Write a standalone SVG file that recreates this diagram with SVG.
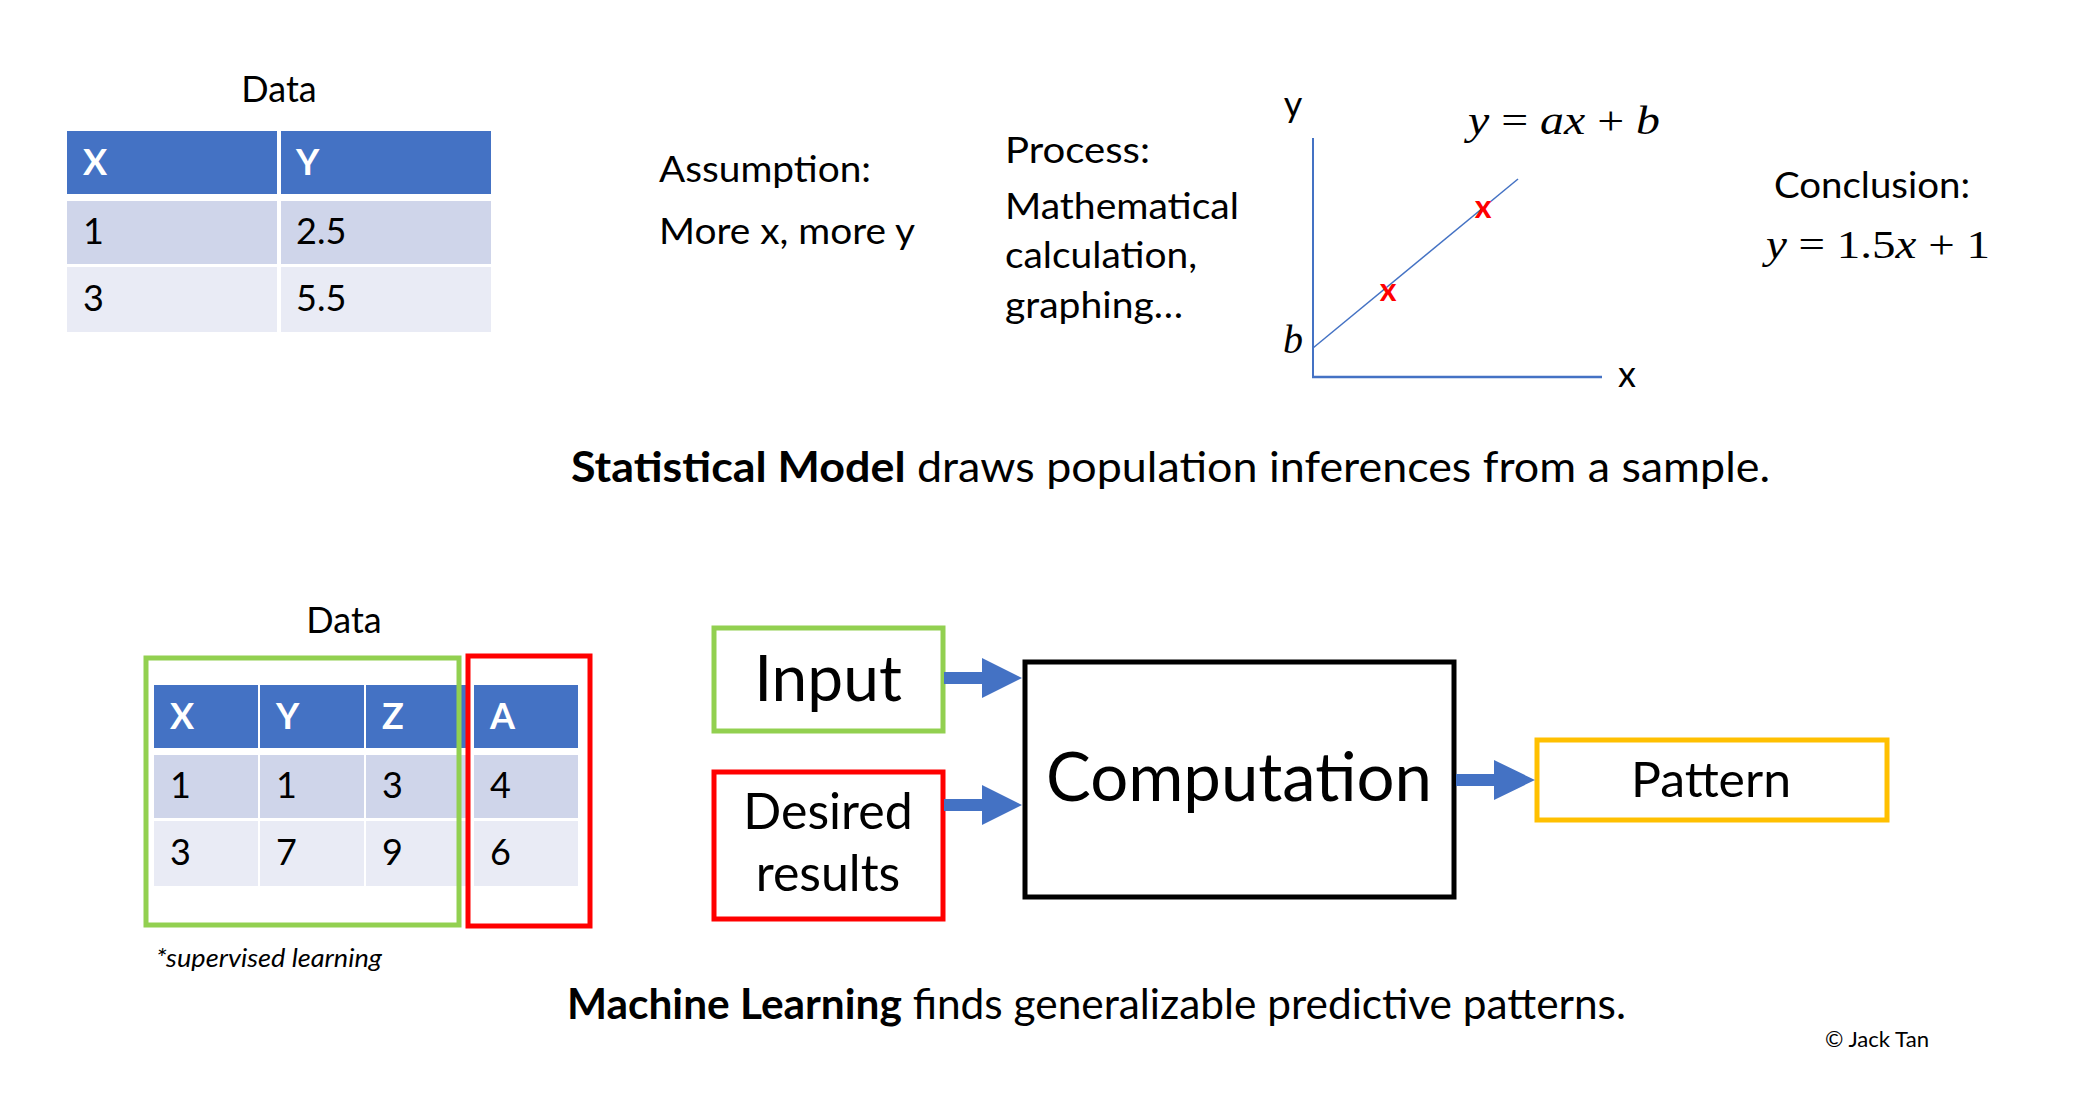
<svg xmlns="http://www.w3.org/2000/svg" width="2076" height="1108" viewBox="0 0 2076 1108">
<style>
text{font-family:Lato,"Open Sans","Liberation Sans",sans-serif;fill:#000}
.h{fill:#4472C4}.r1{fill:#CFD5EA}.r2{fill:#E9EBF5}
.ht{fill:#fff;font-weight:bold;font-size:36px}
.cv{font-size:36px}
.t{font-size:36px}
.m{font-family:"Liberation Serif","DejaVu Serif",serif;font-style:italic;font-size:40px}
.mn{font-family:"Liberation Serif","DejaVu Serif",serif;font-size:40px}
.arrow{fill:#4472C4}
</style>
<rect width="2076" height="1108" fill="#fff"/>
<g id="top-table">
<text x="279" y="102" class="t" text-anchor="middle">Data</text>
<rect x="67" y="131" width="210" height="63" class="h"/><rect x="281" y="131" width="210" height="63" class="h"/>
<rect x="67" y="201" width="210" height="63" class="r1"/><rect x="281" y="201" width="210" height="63" class="r1"/>
<rect x="67" y="267" width="210" height="65" class="r2"/><rect x="281" y="267" width="210" height="65" class="r2"/>
<text x="83" y="175" class="ht">X</text><text x="296" y="175" class="ht">Y</text>
<text x="83" y="244" class="cv">1</text><text x="296" y="244" class="cv">2.5</text>
<text x="83" y="311" class="cv">3</text><text x="296" y="311" class="cv">5.5</text>
</g>
<g id="assumption">
<text x="659" y="182" class="t" textLength="212" lengthAdjust="spacingAndGlyphs">Assumption:</text>
<text x="659" y="244" class="t" textLength="256" lengthAdjust="spacingAndGlyphs">More x, more y</text>
</g>
<g id="process">
<text x="1005" y="163" class="t" textLength="145" lengthAdjust="spacingAndGlyphs">Process:</text>
<text x="1005" y="219" class="t" textLength="234" lengthAdjust="spacingAndGlyphs">Mathematical</text>
<text x="1005" y="268" class="t" textLength="192" lengthAdjust="spacingAndGlyphs">calculation,</text>
<text x="1005" y="318" class="t" textLength="178" lengthAdjust="spacingAndGlyphs">graphing…</text>
</g>
<g id="graph">
<line x1="1313" y1="138" x2="1313" y2="377" stroke="#4472C4" stroke-width="2"/>
<line x1="1312" y1="377" x2="1602" y2="377" stroke="#4472C4" stroke-width="2.5"/>
<line x1="1313" y1="348" x2="1518" y2="179" stroke="#4472C4" stroke-width="1.5"/>
<text x="1388" y="301" font-size="32" font-weight="bold" style="fill:#f00" text-anchor="middle">x</text>
<text x="1483" y="218" font-size="32" font-weight="bold" style="fill:#f00" text-anchor="middle">x</text>
<text x="1293" y="117" class="t" text-anchor="middle">y</text>
<text x="1293" y="353" class="m" text-anchor="middle">b</text>
<text x="1627" y="387" class="t" text-anchor="middle">x</text>
<text x="1468" y="134" class="m" textLength="192" lengthAdjust="spacingAndGlyphs">y <tspan class="mn" font-style="normal">=</tspan> ax <tspan font-style="normal">+</tspan> b</text>
</g>
<g id="conclusion">
<text x="1872" y="198" class="t" text-anchor="middle" textLength="196" lengthAdjust="spacingAndGlyphs">Conclusion:</text>
<text x="1766" y="258" class="m" textLength="224" lengthAdjust="spacingAndGlyphs">y <tspan font-style="normal">= 1.5</tspan>x <tspan font-style="normal">+ 1</tspan></text>
</g>
<g id="stat-caption">
<text x="571" y="482" font-size="42" textLength="1199" lengthAdjust="spacingAndGlyphs"><tspan font-weight="bold">Statistical Model</tspan> draws population inferences from a sample.</text>
</g>
<g id="bottom-table">
<text x="344" y="633" class="t" text-anchor="middle">Data</text>
<rect x="154" y="685" width="104" height="63" class="h"/><rect x="260" y="685" width="104" height="63" class="h"/><rect x="366" y="685" width="104" height="63" class="h"/><rect x="474" y="685" width="104" height="63" class="h"/>
<rect x="154" y="755" width="104" height="63" class="r1"/><rect x="260" y="755" width="104" height="63" class="r1"/><rect x="366" y="755" width="104" height="63" class="r1"/><rect x="474" y="755" width="104" height="63" class="r1"/>
<rect x="154" y="821" width="104" height="65" class="r2"/><rect x="260" y="821" width="104" height="65" class="r2"/><rect x="366" y="821" width="104" height="65" class="r2"/><rect x="474" y="821" width="104" height="65" class="r2"/>
<text x="170" y="729" class="ht">X</text><text x="276" y="729" class="ht">Y</text><text x="382" y="729" class="ht">Z</text><text x="490" y="729" class="ht">A</text>
<text x="170" y="798" class="cv">1</text><text x="276" y="798" class="cv">1</text><text x="382" y="798" class="cv">3</text><text x="490" y="798" class="cv">4</text>
<text x="170" y="865" class="cv">3</text><text x="276" y="865" class="cv">7</text><text x="382" y="865" class="cv">9</text><text x="490" y="865" class="cv">6</text>
<rect x="146" y="658" width="313" height="267" fill="none" stroke="#92D050" stroke-width="5"/>
<rect x="468" y="656" width="122" height="270" fill="none" stroke="#FF0000" stroke-width="5"/>
<text x="156" y="967" font-size="26" font-style="italic" textLength="226" lengthAdjust="spacingAndGlyphs">*supervised learning</text>
</g>
<g id="input">
<rect x="714" y="628" width="229" height="103" fill="none" stroke="#92D050" stroke-width="5"/>
<text x="828" y="701" font-size="64" text-anchor="middle">Input</text>
</g>
<g id="desired">
<rect x="714" y="772" width="229" height="147" fill="none" stroke="#FF0000" stroke-width="5"/>
<text x="828" y="829" font-size="50" text-anchor="middle">Desired</text>
<text x="828" y="891" font-size="50" text-anchor="middle">results</text>
</g>
<g id="computation">
<rect x="1025" y="662" width="429" height="235" fill="none" stroke="#000" stroke-width="5"/>
<text x="1239" y="801" font-size="68" text-anchor="middle" textLength="386" lengthAdjust="spacingAndGlyphs">Computation</text>
</g>
<g id="pattern">
<rect x="1537" y="740" width="350" height="80" fill="none" stroke="#FFC000" stroke-width="5"/>
<text x="1711" y="797" font-size="48" text-anchor="middle" textLength="160" lengthAdjust="spacingAndGlyphs">Pattern</text>
</g>
<g id="connectors">
<polygon class="arrow" points="944,672 982,672 982,658 1022,678 982,698 982,684 944,684"/>
<polygon class="arrow" points="944,799 982,799 982,785 1022,805 982,825 982,811 944,811"/>
<polygon class="arrow" points="1456,774 1494,774 1494,760 1535,780 1494,800 1494,786 1456,786"/>
</g>
<g id="ml-caption">
<text x="567" y="1019" font-size="42" textLength="1059" lengthAdjust="spacingAndGlyphs"><tspan font-weight="bold">Machine Learning</tspan> finds generalizable predictive patterns.</text>
<text x="1825" y="1047" font-size="21" textLength="104" lengthAdjust="spacingAndGlyphs">© Jack Tan</text>
</g>
</svg>
